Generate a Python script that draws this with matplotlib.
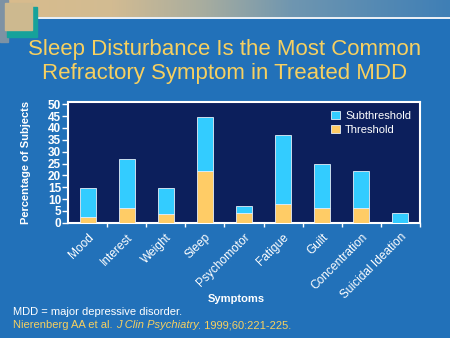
import numpy as np
import matplotlib
matplotlib.use('Agg')
import matplotlib.pyplot as plt
import matplotlib.patches as mpatches
from matplotlib.colors import LinearSegmentedColormap

plt.rcParams['font.family'] = ['Liberation Sans', 'DejaVu Sans']

SYMPTOMS = ['Mood', 'Interest', 'Weight', 'Sleep', 'Psychomotor', 'Fatigue',
            'Guilt', 'Concentration', 'Suicidal Ideation']
# percentage of subjects with the symptom (any level) and at full threshold
TOTAL = [14.5, 27, 14.5, 44.5, 7, 37, 25, 22, 4]
THRESHOLD = [2.5, 6, 3.5, 22, 4, 8, 6, 6, 0]
SUBTHRESHOLD = [t - th for t, th in zip(TOTAL, THRESHOLD)]
Y_TICKS = list(range(0, 55, 5))

BG = '#2271b9'
NAVY = '#0c1f5c'
CYAN = '#33ccff'
GOLD = '#ffcc66'
TITLE_YELLOW = '#f7d060'
W, H = 450, 338


def px(x, y, w, h):
    # pixel box (top-left origin) -> figure fraction rect
    return [x / W, 1 - (y + h) / H, w / W, h / H]


def draw_banner(fig):
    band = fig.add_axes(px(0, 0, W, 17))
    band.set_axis_off()
    cmap = LinearSegmentedColormap.from_list(
        'band', [(0.0, '#d9bc8c'), (0.25, '#d2bb92'), (0.45, '#a8ad9f'),
                 (0.65, '#6f96b0'), (1.0, '#3f7fb6')])
    band.imshow(np.linspace(0, 1, 256)[None, :], aspect='auto', cmap=cmap,
                extent=[0, 1, 0, 1])
    line = fig.add_axes(px(0, 17, W, 1.5))
    line.set_axis_off()
    line.add_patch(mpatches.Rectangle((0, 0), 1, 1, color='#e8eef5'))
    fig.patches.append(mpatches.Rectangle((0, 1 - 42 / H), 8 / W, 42 / H,
                       transform=fig.transFigure, color='#7d92a4', zorder=2))
    fig.patches.append(mpatches.Rectangle((7 / W, 1 - 37 / H), 30 / W, 30 / H,
                       transform=fig.transFigure, color='#16a29b', zorder=3))
    fig.patches.append(mpatches.Rectangle((5 / W, 1 - 30 / H), 27 / W, 27 / H,
                       transform=fig.transFigure, color='#cdb98f', zorder=4))


def text_run(fig, x, y, parts, **kw):
    # lay out consecutive text pieces with their own styles on one line
    r = fig.canvas.get_renderer()
    for s, style in parts:
        t = fig.text(x, y, s, ha='left', va='center', **style, **kw)
        bb = t.get_window_extent(renderer=r)
        x += bb.width / W


def main():
    fig = plt.figure(figsize=(4.5, 3.38), dpi=100, facecolor=BG)
    draw_banner(fig)

    fig.text(225 / W, 1 - 50 / H, 'Sleep Disturbance Is the Most Common',
             color=TITLE_YELLOW, fontsize=16, ha='center', va='center')
    fig.text(225 / W, 1 - 73 / H, 'Refractory Symptom in Treated MDD',
             color=TITLE_YELLOW, fontsize=16, ha='center', va='center')

    ax = fig.add_axes(px(68, 101.7, 352, 121))
    ax.set_facecolor(NAVY)
    x = np.arange(len(SYMPTOMS))
    bw = 0.41
    ax.bar(x, THRESHOLD, width=bw, color=GOLD, edgecolor='#e6eef8',
           linewidth=0.6, label='Threshold', zorder=3)
    ax.bar(x, SUBTHRESHOLD, width=bw, bottom=THRESHOLD, color=CYAN,
           edgecolor='#e6eef8', linewidth=0.6, label='Subthreshold', zorder=3)

    ax.set_xlim(-0.5, len(SYMPTOMS) - 0.5)
    ax.set_ylim(0, 51.1)
    ax.set_yticks(Y_TICKS)
    ax.set_yticklabels([str(v) for v in Y_TICKS], color='white',
                       fontsize=8.5, fontweight='bold')
    ax.set_xticks(x + 0.5, minor=False)
    ax.set_xticklabels([])
    ax.set_xticks(x, minor=True)
    ax.set_xticklabels(SYMPTOMS, minor=True, rotation=45, ha='right',
                       va='top', rotation_mode='anchor', color='white',
                       fontsize=8.6)
    ax.tick_params(axis='x', which='minor', length=0, pad=6)
    ax.tick_params(axis='x', which='major', length=3, width=1, color='white')
    ax.tick_params(axis='y', length=4, width=1, color='white', pad=1)
    for s in ax.spines.values():
        s.set_color('white')
        s.set_linewidth(1.5)

    ax.set_ylabel('Percentage of Subjects', color='white', fontsize=8,
                  fontweight='bold', labelpad=12)

    handles, labels = ax.get_legend_handles_labels()
    leg = ax.legend(handles[::-1], labels[::-1], loc='upper right',
                    frameon=False, fontsize=8, handlelength=0.8,
                    handleheight=0.8, handletextpad=0.5, labelspacing=0.35,
                    borderaxespad=0.4)
    for t in leg.get_texts():
        t.set_color('white')

    fig.text(236 / W, 1 - 299 / H, 'Symptoms', color='white', fontsize=8,
             fontweight='bold', ha='center', va='center')
    fig.text(13 / W, 1 - 312 / H, 'MDD = major depressive disorder.',
             color='white', fontsize=8, ha='left', va='center')
    text_run(fig, 13 / W, 1 - 325 / H,
             [('Nierenberg AA et al. ', {}),
              ('J Clin Psychiatry', {'style': 'italic'}),
              ('. 1999;60:221-225.', {})],
             color=TITLE_YELLOW, fontsize=8)

    fig.savefig('out.png', dpi=100, facecolor=BG)


if __name__ == '__main__':
    main()
